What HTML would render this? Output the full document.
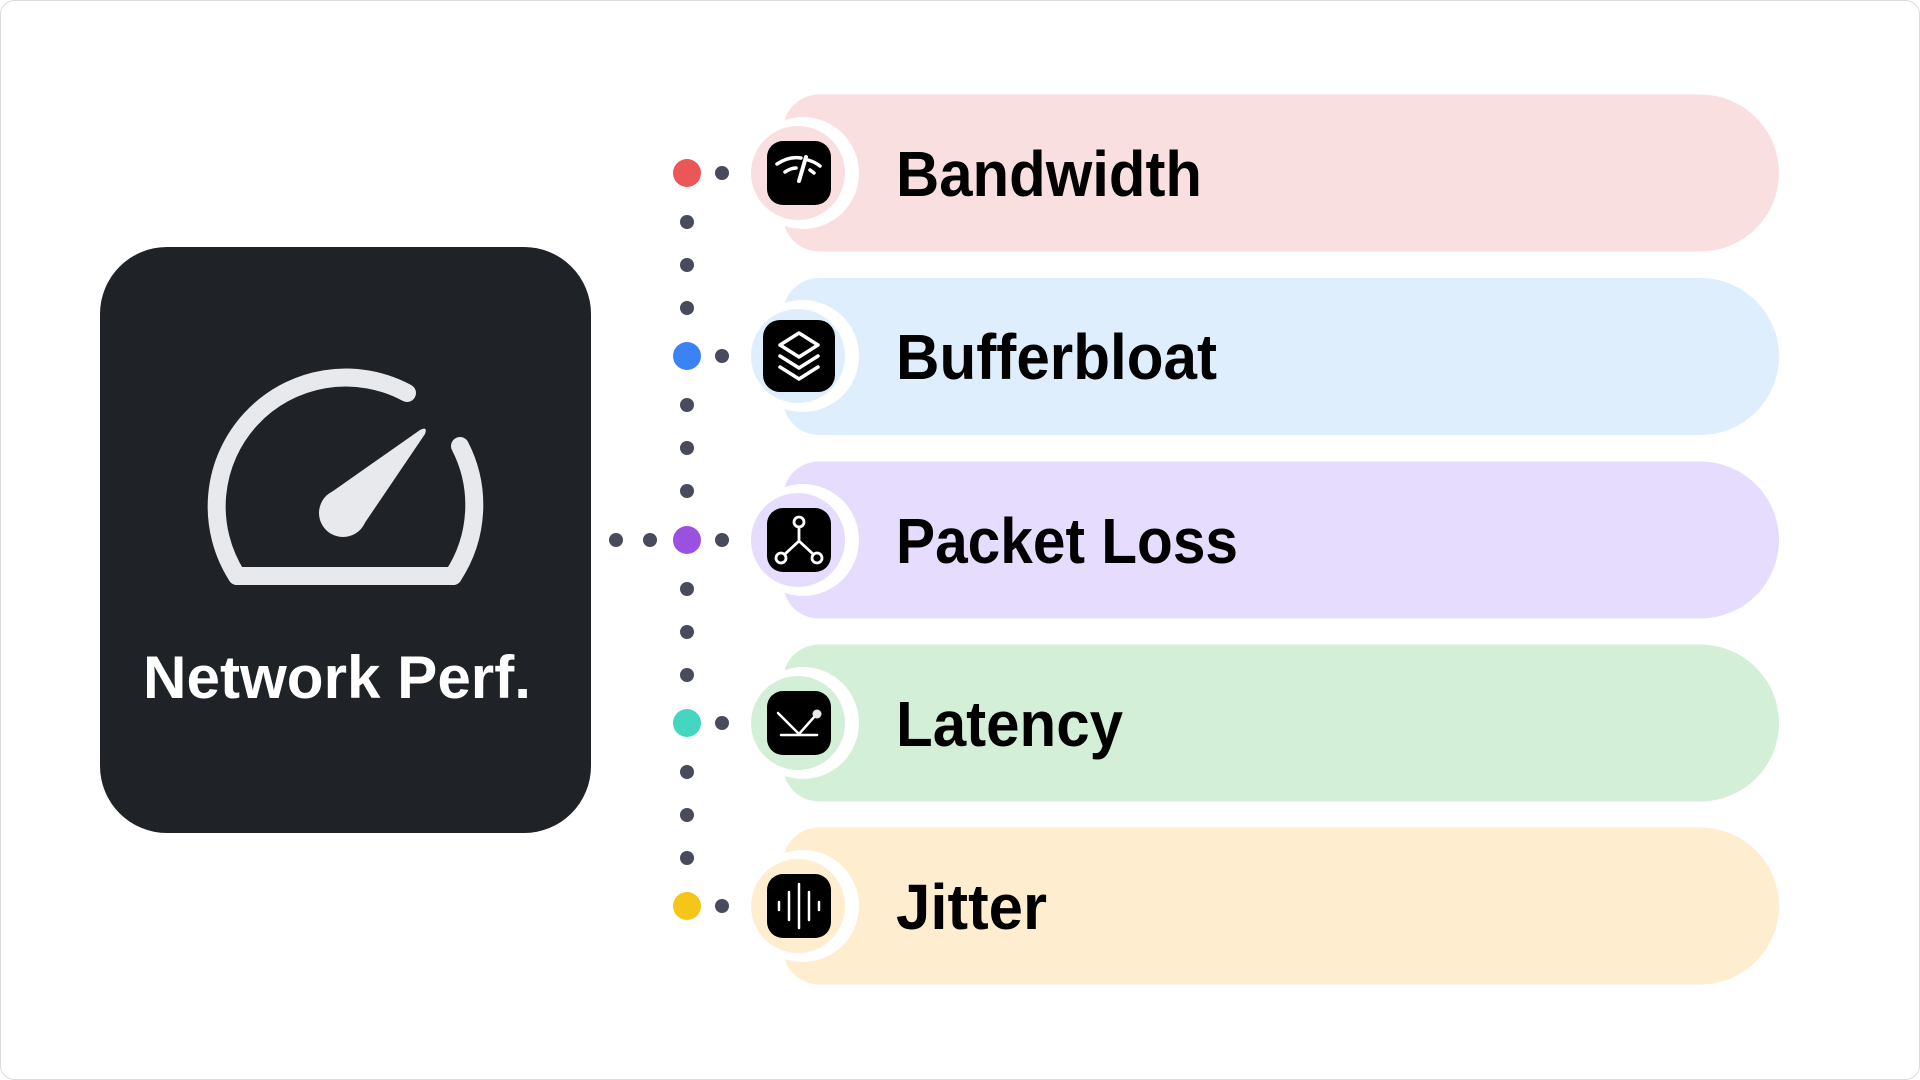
<!DOCTYPE html>
<html><head><meta charset="utf-8"><style>
html,body{margin:0;padding:0;background:#fff;}
svg{display:block;}
text{font-family:"Liberation Sans",sans-serif;font-weight:bold;}
</style></head><body>
<svg width="1920" height="1080" viewBox="0 0 1920 1080" xmlns="http://www.w3.org/2000/svg">
<rect x="0.5" y="0.5" width="1919" height="1079" rx="14" fill="#fff" stroke="#dcdcdc"/>
<!-- main box -->
<rect x="100" y="247" width="491" height="586" rx="67" fill="#1f2226"/>
<g stroke="#e8e9ed" stroke-width="18" fill="none" stroke-linecap="round" stroke-linejoin="round">
<path d="M237,576 A129,129 0 0 1 407,393"/>
<path d="M460,446 A129,129 0 0 1 453,576"/>
<path d="M237,576 L453,576"/>
</g>
<g fill="#e8e9ed">
<circle cx="343" cy="513" r="24"/>
<path d="M326,496 L420,430 Q428,426 425,434 L360,530 Z"/>
</g>
<text x="337" y="698" font-size="60" fill="#fff" text-anchor="middle" textLength="388" lengthAdjust="spacingAndGlyphs">Network Perf.</text>

<!-- connector dots -->
<g fill="#474b5c">
<circle cx="616" cy="540" r="7"/><circle cx="650" cy="540" r="7"/>
<circle cx="722" cy="173" r="7"/><circle cx="722" cy="356" r="7"/><circle cx="722" cy="540" r="7"/><circle cx="722" cy="723" r="7"/><circle cx="722" cy="906" r="7"/>
<circle cx="687" cy="222" r="7"/><circle cx="687" cy="265" r="7"/><circle cx="687" cy="308" r="7"/>
<circle cx="687" cy="405" r="7"/><circle cx="687" cy="448" r="7"/><circle cx="687" cy="491" r="7"/>
<circle cx="687" cy="589" r="7"/><circle cx="687" cy="632" r="7"/><circle cx="687" cy="675" r="7"/>
<circle cx="687" cy="772" r="7"/><circle cx="687" cy="815" r="7"/><circle cx="687" cy="858" r="7"/>
</g>
<circle cx="687" cy="173" r="14" fill="#eb5757"/>
<circle cx="687" cy="356" r="14" fill="#3b82f6"/>
<circle cx="687" cy="540" r="14" fill="#9b51e0"/>
<circle cx="687" cy="723" r="14" fill="#45d6c0"/>
<circle cx="687" cy="906" r="14" fill="#f5c518"/>

<!-- pills -->
<path d="M819,94.5 H1700.5 A78.5,78.5 0 0 1 1700.5,251.5 H819 A36,36 0 0 1 783,215.5 V130.5 A36,36 0 0 1 819,94.5 Z" fill="#fadfe0"/>
<path d="M819,278 H1700.5 A78.5,78.5 0 0 1 1700.5,435 H819 A36,36 0 0 1 783,399 V314 A36,36 0 0 1 819,278 Z" fill="#dfeefd"/>
<path d="M819,461.5 H1700.5 A78.5,78.5 0 0 1 1700.5,618.5 H819 A36,36 0 0 1 783,582.5 V497.5 A36,36 0 0 1 819,461.5 Z" fill="#e6dcfd"/>
<path d="M819,644.5 H1700.5 A78.5,78.5 0 0 1 1700.5,801.5 H819 A36,36 0 0 1 783,765.5 V680.5 A36,36 0 0 1 819,644.5 Z" fill="#d4efd8"/>
<path d="M819,827.5 H1700.5 A78.5,78.5 0 0 1 1700.5,984.5 H819 A36,36 0 0 1 783,948.5 V863.5 A36,36 0 0 1 819,827.5 Z" fill="#feeecf"/>

<!-- icon circles -->
<g fill="#fff">
<circle cx="803" cy="173" r="56"/><circle cx="803" cy="356" r="56"/><circle cx="803" cy="540" r="56"/><circle cx="803" cy="723" r="56"/><circle cx="803" cy="906" r="56"/>
</g>
<circle cx="798" cy="173" r="47" fill="#fadfe0"/>
<circle cx="798" cy="356" r="47" fill="#dfeefd"/>
<circle cx="798" cy="540" r="47" fill="#e6dcfd"/>
<circle cx="798" cy="723" r="47" fill="#d4efd8"/>
<circle cx="798" cy="906" r="47" fill="#feeecf"/>
<g fill="#000">
<rect x="767" y="141" width="64" height="64" rx="16"/>
<rect x="763" y="320" width="72" height="72" rx="17"/>
<rect x="767" y="508" width="64" height="64" rx="16"/>
<rect x="767" y="691" width="64" height="64" rx="16"/>
<rect x="767" y="874" width="64" height="64" rx="16"/>
</g>
<!-- icon glyphs -->
<g stroke="#fff" fill="none" stroke-width="3.5" stroke-linecap="round" stroke-linejoin="round">
<!-- bandwidth -->
<path d="M777,164 Q789,156 801,158"/>
<path d="M785,172 Q791,168 796,168"/>
<path d="M808,160 Q815,162 820,166"/>
<path d="M810,170 L814,173"/>
<path d="M806,157 L799,181" stroke-width="4"/>
<!-- bufferbloat -->
<path d="M799,333 L818,345 L799,357 L780,345 Z"/>
<path d="M780,356 L799,368 L818,356"/>
<path d="M780,367 L799,379 L818,367"/>
<!-- packet loss -->
<circle cx="799" cy="522" r="5" stroke-width="2.8"/>
<circle cx="781" cy="558" r="5" stroke-width="2.8"/>
<circle cx="817" cy="558" r="5" stroke-width="2.8"/>
<path d="M799,527 V541 L785,554 M799,541 L813,554" stroke-width="2.8"/>
<!-- latency -->
<path d="M778,713 L799,734 L815,716" stroke-width="2.5"/>
<path d="M781,735 H817" stroke-width="2.5"/>
<!-- jitter -->
<path d="M779,902 V910 M789,892 V920 M799,884 V928 M809,892 V920 M819,902 V910" stroke-width="2.5"/>
</g>
<circle cx="817" cy="714" r="4.5" fill="#e8e9ed"/>

<!-- labels -->
<g font-size="64" fill="#000">
<text x="896" y="196" textLength="306" lengthAdjust="spacingAndGlyphs">Bandwidth</text>
<text x="896" y="379" textLength="321" lengthAdjust="spacingAndGlyphs">Bufferbloat</text>
<text x="896" y="563" textLength="342" lengthAdjust="spacingAndGlyphs">Packet Loss</text>
<text x="896" y="746" textLength="227" lengthAdjust="spacingAndGlyphs">Latency</text>
<text x="896" y="929" textLength="151" lengthAdjust="spacingAndGlyphs">Jitter</text>
</g>
</svg>
</body></html>
